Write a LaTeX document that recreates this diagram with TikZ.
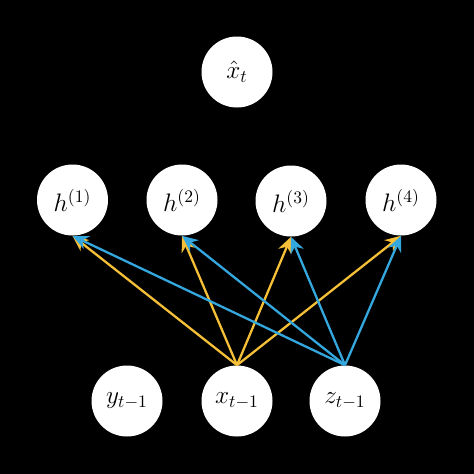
\documentclass[tikz,border=0pt]{standalone}
\usetikzlibrary{arrows.meta}
\definecolor{ylw}{RGB}{245,192,55}
\definecolor{blu}{RGB}{52,168,222}
\begin{document}
\begin{tikzpicture}[x=0.02cm,y=-0.02cm,
  unit/.style={circle,fill=white,draw=none,minimum size=71*0.02cm,inner sep=0pt,font=\Large},
  ya/.style={draw=ylw,line width=1.3pt,-{Stealth[length=9pt,width=8pt]}},
  ba/.style={draw=blu,line width=1.3pt,-{Stealth[length=9pt,width=8pt]}}]
\fill[black] (0,0) rectangle (474,474);
\useasboundingbox (0,0) rectangle (474,474);
\node[unit] (xh) at (237,72) {$\hat{x}_t$};
\node[unit] (h1) at (72.5,200) {$h^{(1)}$};
\node[unit] (h2) at (182,200) {$h^{(2)}$};
\node[unit] (h3) at (291,201) {$h^{(3)}$};
\node[unit] (h4) at (401,200) {$h^{(4)}$};
\node[unit] (y) at (127,401) {$y_{t-1}$};
\node[unit] (x) at (237,401) {$x_{t-1}$};
\node[unit] (z) at (345,401) {$z_{t-1}$};
\foreach \h in {h1,h2,h3,h4} {
  \draw[ya] (x.north) -- (\h.south);
}
\foreach \h in {h1,h2,h3,h4} {
  \draw[ba] (z.north) -- (\h.south);
}
\end{tikzpicture}
\end{document}
